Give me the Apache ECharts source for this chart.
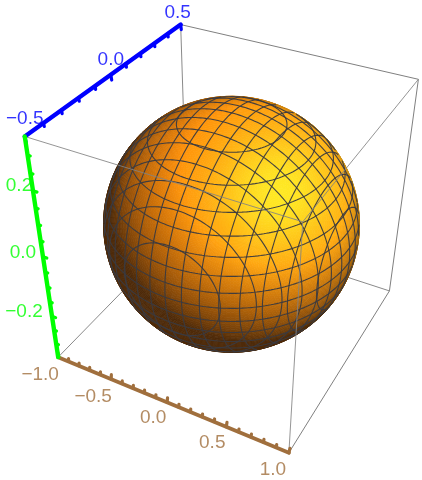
<!DOCTYPE html>
<html><head><meta charset="utf-8">
<style>html,body{margin:0;padding:0;background:#fff}#c{width:422px;height:480px}</style>
<script src="https://cdn.jsdelivr.net/npm/echarts@6/dist/echarts.min.js"></script>
</head><body><div id="c"></div>
<script>
// ---- axis data
const brownTicks=[-1,-.9,-.8,-.7,-.6,-.5,-.4,-.3,-.2,-.1,0,.1,.2,.3,.4,.5,.6,.7,.8,.9,1];
const brownMajor=[-1,-.5,0,.5,1];
const blueTicks=[-.5,-.4,-.3,-.2,-.1,0,.1,.2,.3,.4,.5];
const blueMajor=[-.5,0,.5];
const greenTicks=[.3,.25,.2,.15,.1,.05,0,-.05,-.1,-.15,-.2,-.25,-.3];
const greenMajor=[.2,0,-.2];
const brownRange=[-1,1], blueRange=[-.5,.5], greenRange=[-.35,.35];
// label value, text, pixel offset
const brownLabels=[[-1,'\u22121.0',-18,18],[-.5,'\u22120.5',-18,18],[0,'0.0',-14,15],[.5,'0.5',-14,16],[1,'1.0',-16,17]];
const blueLabels=[[-.5,'\u22120.5',0,-18],[0,'0.0',0,-15],[.5,'0.5',-3,-12]];
const greenLabels=[[.2,'0.2',-14,-5],[0,'0.0',-20,-4],[-.2,'\u22120.2',-28,-4]];
// mesh plane positions in the unit box
const meshX=[-.875,-.75,-.625,-.5,-.375,-.25,-.125,0,.125,.25,.375,.5,.625,.75,.875];
const meshY=[-.875,-.75,-.625,-.5,-.375,-.25,-.125,0,.125,.25,.375,.5,.625,.75,.875];
const meshZ=[-.875,-.75,-.625,-.5,-.375,-.25,-.125,0,.125,.25,.375,.5,.625,.75,.875];
// camera calibration: box corners and where they appear
const cube=[[-1,-1,-1],[1,-1,-1],[-1,-1,1],[1,-1,1],[-1,1,1],[1,1,1],[1,1,-1],[-1,1,-1]];
const seen=[[60,358],[289,453],[24,135],[301,222],[182,25],[419,80],[390,290],[185,225]];
const names={E:0,F:1,A:2,N:3,B:4,C:5,G:6,H:7};
const backEdges=[['B','H'],['E','H'],['G','H']];
const outerEdges=[['B','C'],['C','G'],['G','F']];
const frontEdges=[['A','N'],['C','N'],['F','N']];
const limbFit={cx:231.5,cy:224.3,R:128};

function solve(A,b){const n=b.length;A=A.map((r,i)=>[...r,b[i]]);
 for(let i=0;i<n;i++){let m=i;for(let k=i;k<n;k++)if(Math.abs(A[k][i])>Math.abs(A[m][i]))m=k;[A[i],A[m]]=[A[m],A[i]];
  for(let k=i+1;k<n;k++){const f=A[k][i]/A[i][i];for(let j=i;j<=n;j++)A[k][j]-=f*A[i][j];}}
 const x=Array(n).fill(0);for(let i=n-1;i>=0;i--){let s=A[i][n];for(let j=i+1;j<n;j++)s-=A[i][j]*x[j];x[i]=s/A[i][i];}return x;}
function fitCamera(){const rows=[],rhs=[];cube.forEach((c,i)=>{const [X,Y,Z]=c,[u,v]=seen[i];
  rows.push([X,Y,Z,1,0,0,0,0,-u*X,-u*Y,-u*Z]);rhs.push(u);
  rows.push([0,0,0,0,X,Y,Z,1,-v*X,-v*Y,-v*Z]);rhs.push(v);});
 const AtA=Array.from({length:11},(_,i)=>Array.from({length:11},(_,j)=>rows.reduce((s,r)=>s+r[i]*r[j],0)));
 const Atb=Array.from({length:11},(_,i)=>rows.reduce((s,r,k)=>s+r[i]*rhs[k],0));
 const p=solve(AtA,Atb);return [[p[0],p[1],p[2],p[3]],[p[4],p[5],p[6],p[7]],[p[8],p[9],p[10],1]];}
const P=fitCamera();
const proj=p=>{const w=P[2][0]*p[0]+P[2][1]*p[1]+P[2][2]*p[2]+P[2][3];
 return [(P[0][0]*p[0]+P[0][1]*p[1]+P[0][2]*p[2]+P[0][3])/w,(P[1][0]*p[0]+P[1][1]*p[1]+P[1][2]*p[2]+P[1][3])/w];};
const cam=solve(P.map(r=>r.slice(0,3)),P.map(r=>-r[3]));
const dot=(a,b)=>a[0]*b[0]+a[1]*b[1]+a[2]*b[2], add=(a,b,s=1)=>[a[0]+s*b[0],a[1]+s*b[1],a[2]+s*b[2]],
 norm=a=>{const l=Math.sqrt(dot(a,a));return a.map(v=>v/l);}, cross=(a,b)=>[a[1]*b[2]-a[2]*b[1],a[2]*b[0]-a[0]*b[2],a[0]*b[1]-a[1]*b[0]];
// fit sphere centre and radius to the visible outline
let ctr=[0,0,0],rad=.9;
function outline(c,r){const d=add(cam,c,-1),D=Math.sqrt(dot(d,d)),v=d.map(x=>x/D),a=norm(cross(v,[.3,.5,.8])),b=cross(v,a);
 const ca=r/D,sa=Math.sqrt(1-ca*ca);let x0=1e9,x1=-1e9,y0=1e9,y1=-1e9;
 for(let i=0;i<180;i++){const t=i/180*2*Math.PI,q=add(add(c,v,r*ca),add(a.map(x=>x*Math.cos(t)),b.map(x=>x*Math.sin(t))),r*sa),s=proj(q);
  x0=Math.min(x0,s[0]);x1=Math.max(x1,s[0]);y0=Math.min(y0,s[1]);y1=Math.max(y1,s[1]);}
 return {cx:(x0+x1)/2,cy:(y0+y1)/2,R:(x1-x0+y1-y0)/4,a,b,v,D};}
for(let it=0;it<12;it++){const o=outline(ctr,rad);rad*=limbFit.R/o.R;
 const s0=proj(ctr),sa=proj(add(ctr,o.a,.01)),sb=proj(add(ctr,o.b,.01));
 const dd=solve([[sa[0]-s0[0],sb[0]-s0[0]],[sa[1]-s0[1],sb[1]-s0[1]]],[limbFit.cx-o.cx,limbFit.cy-o.cy]);
 ctr=add(add(ctr,o.a,.01*dd[0]),o.b,.01*dd[1]);}
const oo=outline(ctr,rad);
// shading fitted to the picture: a broad orange term plus a yellow lobe
function shade(s){const nx=(s[0]-limbFit.cx)/limbFit.R,ny=-(s[1]-limbFit.cy)/limbFit.R,nz=Math.sqrt(Math.max(0,1-nx*nx-ny*ny));
 const base=.33+.32*nx+.38*ny+.78*nz;
 const R=Math.min(1,Math.max(.3,base));
 const d2=(nx-.38)*(nx-.38)+(ny-.25)*(ny-.25);
 const lobe=Math.exp(-d2/(2*.4*.4));
 const G=.53*Math.min(1.02,Math.max(.3,base))+.37*lobe;
 const B=.03+.11*lobe;
 return 'rgb('+[R,G,B].map(v=>Math.min(255,Math.round(255*v))).join(',')+')';}
// sphere facets in rings around the line of sight
const facets=[];const NR=64,NS=128,amax=Math.acos(rad/oo.D);
const sph=(ia,is)=>{const al=amax*ia/NR,t=2*Math.PI*is/NS;
 const dir=add(oo.v.map(x=>x*Math.cos(al)),add(oo.a.map(x=>x*Math.sin(al)*Math.cos(t)),oo.b.map(x=>x*Math.sin(al)*Math.sin(t))));
 return proj(add(ctr,dir,rad));};
for(let i=0;i<NR;i++)for(let j=0;j<NS;j++){const q=[sph(i,j),sph(i,j+1),sph(i+1,j+1),sph(i+1,j)];
 const sm=sph(i+.5,j+.5);facets.push({q,col:shade(sm),m:sm});}
// mesh circles, stopped just short of the outline
function circle(k,h){const i=(k+1)%3,j=(k+2)%3,rho=Math.sqrt(Math.max(0,rad*rad-h*h)),out=[];
 for(let s=0;s<=300;s++){const t=s/300*2*Math.PI,p=[0,0,0];p[k]=h;p[i]=rho*Math.cos(t);p[j]=rho*Math.sin(t);
  const d=add(cam,add(ctr,p),-1);
  if(dot(p,d)/Math.sqrt(dot(d,d))/rad>.07)out.push(proj(add(ctr,p)));else if(out.length&&!isNaN(out[out.length-1][0]))out.push([NaN,NaN]);}
 out.push([NaN,NaN]);return out;}
const meshSeries=[[0,meshX],[1,meshY],[2,meshZ]].map(([k,lv])=>({type:'line',coordinateSystem:'cartesian2d',showSymbol:false,silent:true,z:5,
 connectNulls:false,lineStyle:{color:'rgba(58,58,64,.95)',width:1.1},data:lv.flatMap(h=>circle(k,h))}));
const edgeData=list=>list.flatMap(([a,b])=>[proj(cube[names[a]]),proj(cube[names[b]]),[NaN,NaN]]);
const edge=(list,color,z,w)=>({type:'line',showSymbol:false,silent:true,z,lineStyle:{color,width:w},data:edgeData(list)});
// axes through the camera
const toX=v=>2*(v-brownRange[0])/(brownRange[1]-brownRange[0])-1,toY=v=>2*(v-blueRange[0])/(blueRange[1]-blueRange[0])-1,toZ=v=>2*(v-greenRange[0])/(greenRange[1]-greenRange[0])-1;
const brownAt=v=>[toX(v),-1,-1],blueAt=v=>[-1,toY(v),1],greenAt=v=>[-1,-1,toZ(v)];
function axis(at,range,ticks,major,dir,color,width,lenMajor,lenMinor){const len=v=>major.includes(v)?lenMajor:lenMinor,line=[proj(at(range[0])),proj(at(range[1]))];
 const tk=ticks.flatMap(v=>[proj(at(v)),proj(add(at(v),dir,len(v))),[NaN,NaN]]);
 return [{type:'line',showSymbol:false,silent:true,z:8,lineStyle:{color,width:3.2,cap:'round'},data:tk},
  {type:'line',showSymbol:false,silent:true,z:9,lineStyle:{color,width,cap:'round'},data:line}];}
function labels(at,list,color){return {type:'scatter',symbolSize:0,silent:true,z:10,data:list.map(([v,t,dx,dy])=>({value:proj(at(v)),label:{show:true,formatter:t,position:[dx,dy],align:'center',verticalAlign:'middle',color,fontFamily:'Liberation Sans',fontSize:19}}))};}
const brown='#a06f3d',blue='#0000ff',green='#00ff00';
const chart=echarts.init(document.getElementById('c'),null,{renderer:'canvas'});
chart.setOption({animation:false,backgroundColor:'#fff',
 grid:{left:0,right:0,top:0,bottom:0},
 xAxis:{type:'value',min:0,max:422,show:false},yAxis:{type:'value',min:0,max:480,inverse:true,show:false},
 series:[
  edge(backEdges,'#8a8a8a',1,1),edge(outerEdges,'#808080',1,1),
  {type:'custom',silent:true,z:3,clip:false,progressive:0,data:facets.map((f,i)=>[f.m[0],f.m[1],i]),encode:{x:0,y:1},
   renderItem:(p,api)=>{const f=facets[api.value(2)];return {type:'polygon',shape:{points:f.q.map(c=>api.coord(c))},style:{fill:f.col,stroke:f.col,lineWidth:.7}};}},
  ...meshSeries,
  edge(frontEdges,'rgba(130,130,130,.85)',6,1),
  ...axis(brownAt,brownRange,brownTicks,brownMajor,[.12,0,1],brown,3.8,.05,.032),
  ...axis(blueAt,blueRange,blueTicks,blueMajor,[.1,0,-1],blue,4.4,.042,.026),
  ...axis(greenAt,greenRange,greenTicks,greenMajor,[1,0,0],green,4.4,.034,.022),
  labels(brownAt,brownLabels,brown),labels(blueAt,blueLabels,blue),labels(greenAt,greenLabels,green)
 ]});
</script></body></html>
